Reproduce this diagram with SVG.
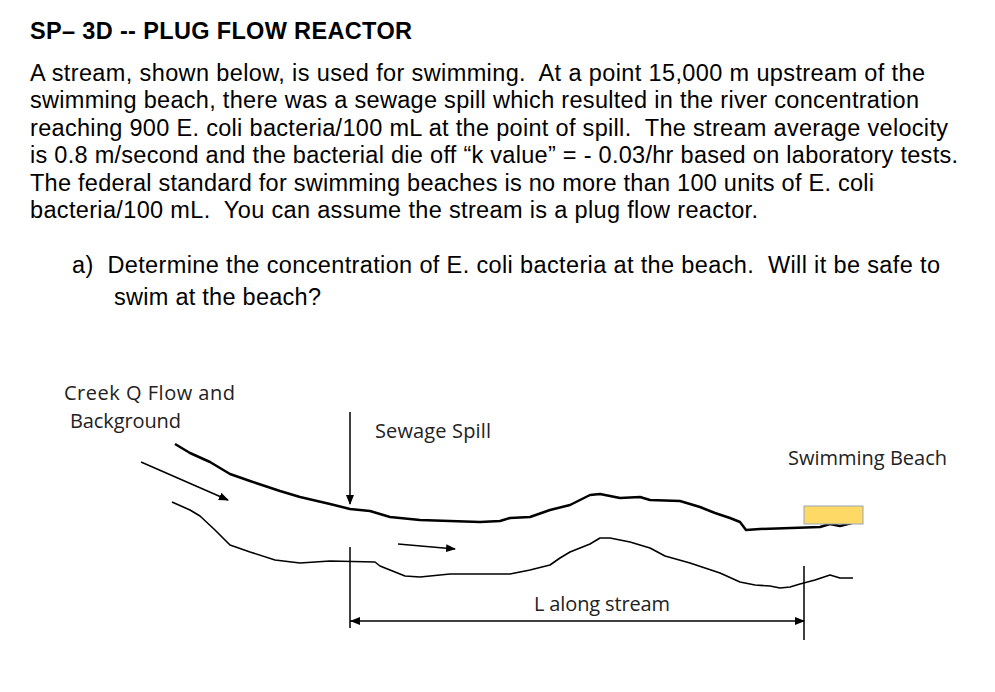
<svg xmlns="http://www.w3.org/2000/svg" width="995" height="692" viewBox="0 0 995 692">
<style>
.t{font-family:"Liberation Sans",Arial,sans-serif;font-size:23.5px;fill:#000;white-space:pre}
.b{font-weight:bold}
.l{font-family:"Open Sans","Noto Sans",sans-serif;font-size:20px;fill:#222}
.bank{fill:none;stroke:#000;stroke-width:2.5;stroke-linejoin:round}
.bank2{fill:none;stroke:#000;stroke-width:1.6;stroke-linejoin:round}
.ar{stroke:#000;stroke-width:1.5;fill:none}
</style>
<defs><marker id="ah" markerWidth="10" markerHeight="8" refX="9" refY="4" orient="auto" markerUnits="userSpaceOnUse"><path d="M0,0L10,4L0,8z" fill="#000"/></marker></defs>
<rect width="995" height="692" fill="#fff"/>
<g id="text">
<text class="t b" x="30" y="39" textLength="382">SP– 3D -- PLUG FLOW REACTOR</text>
<text class="t" x="30" y="81" textLength="895">A stream, shown below, is used for swimming.  At a point 15,000 m upstream of the</text>
<text class="t" x="30" y="108" textLength="889">swimming beach, there was a sewage spill which resulted in the river concentration</text>
<text class="t" x="30" y="136" textLength="918">reaching 900 E. coli bacteria/100 mL at the point of spill.  The stream average velocity</text>
<text class="t" x="30" y="163" textLength="928">is 0.8 m/second and the bacterial die off “k value” = - 0.03/hr based on laboratory tests.</text>
<text class="t" x="30" y="191" textLength="844">The federal standard for swimming beaches is no more than 100 units of E. coli</text>
<text class="t" x="30" y="218" textLength="728">bacteria/100 mL.  You can assume the stream is a plug flow reactor.</text>
<text class="t" x="72" y="273" textLength="868">a)  Determine the concentration of E. coli bacteria at the beach.  Will it be safe to</text>
<text class="t" x="114" y="305" textLength="207">swim at the beach?</text>
</g>
<g id="labels">
<text class="l" x="64" y="400" textLength="171">Creek  Q Flow and</text>
<text class="l" x="70" y="428" textLength="111">Background</text>
<text class="l" x="375" y="438" textLength="116">Sewage Spill</text>
<text class="l" x="788" y="465" textLength="159">Swimming Beach</text>
<text class="l" x="534" y="611" textLength="136">L along stream</text>
</g>
<g id="stream">
<path class="bank" d="M175,444 L190,453 210,462 230,474 250,481 280,491 300,497 330,504 350,509 370,511 390,517 420,520 450,521 480,522 500,521 510,518 530,517 550,510 570,505 580,500 590,495 600,494 620,498 640,497 650,500 680,501 700,507 715,513 730,518 740,522 746,530 760,529 820,527 830,524 840,526 852,523"/>
<path class="bank2" d="M172,502 L190,510 200,516 215,530 230,545 250,552 275,560 300,563 330,561 375,562 380,566 390,570 405,576 420,577 450,574 480,574 510,574 530,570 550,565 560,558 570,552 590,544 600,538 610,538 630,542 650,548 665,556 690,563 720,573 740,582 755,585 770,586 780,588 790,587 800,584 815,580 830,575 840,578 853,578"/>
</g>
<g id="beach"><rect x="804" y="506" width="59" height="18" fill="#FFD966" stroke="#9aa6b8" stroke-width="1"/></g>
<g id="connectors">
<line class="ar" x1="141" y1="462" x2="228" y2="500" marker-end="url(#ah)"/>
<line class="ar" x1="398" y1="544" x2="455" y2="549" marker-end="url(#ah)"/>
<line class="ar" x1="350" y1="412" x2="350" y2="504" marker-end="url(#ah)"/>
<line class="ar" x1="350" y1="547" x2="350" y2="628"/>
<line class="ar" x1="804" y1="566" x2="804" y2="640"/>
<line class="ar" x1="350" y1="621" x2="804" y2="621" marker-end="url(#ah)"/>
<path d="M350,621 l10,-4 v8z" fill="#000"/>
</g>
</svg>
